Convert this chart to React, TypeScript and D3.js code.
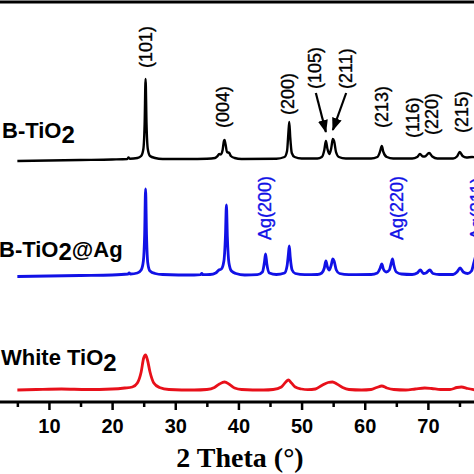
import { useEffect, useRef } from 'react';
import * as d3 from 'd3';

type Pt = [number, number];

// 2θ (deg), intensity (a.u.)
const bTiO2: Pt[] = [
  [5, -2], [10, -1.5], [15, -1], [20, -0.5], [22.4, 0], [22.6, 1.5], [22.8, 0.3], [24, 1],
  [24.6, 3], [24.95, 10], [25.15, 35], [25.3, 80], [25.45, 35], [25.65, 10], [26, 3], [26.8, 1],
  [28, 0], [32, 0], [35, 0.3], [36.3, 1], [36.7, 3], [36.95, 5], [37.2, 4.5], [37.5, 9],
  [37.7, 18], [37.8, 19], [37.95, 15], [38.2, 7], [38.55, 6], [38.8, 3], [39.4, 1], [40.5, 0],
  [46, 0.3], [47.3, 2], [47.7, 8], [47.9, 25], [48.05, 37], [48.2, 22], [48.45, 6], [48.9, 2],
  [50, 0.5], [52.5, 0.5], [53.2, 2], [53.6, 9], [53.85, 18], [54.1, 10], [54.4, 5], [54.7, 11],
  [54.95, 20], [55.15, 18], [55.45, 7], [55.9, 2], [57, 0.5], [61, 0.5], [62, 2], [62.45, 8],
  [62.7, 13], [62.95, 7], [63.5, 2], [64.5, 0.5], [67.5, 0.5], [68.3, 2], [68.75, 5], [69.2, 2.5],
  [69.5, 2.5], [70.2, 6], [70.7, 2.5], [71.5, 0.5], [74, 0.5], [74.6, 2.5], [75.05, 7], [75.5, 3],
  [76.1, 1.5], [77, 2], [78, 1],
];

const bTiO2Ag: Pt[] = [
  [5, -1.5], [10, -1], [15, -0.5], [20, 0], [22.5, 1], [22.7, 2], [22.9, 1], [24, 2],
  [24.6, 5], [24.95, 14], [25.15, 40], [25.3, 86], [25.45, 40], [25.65, 12], [26, 4], [26.8, 1.5],
  [28, 0.5], [33, 0], [34, 0.3], [34.2, 1.5], [34.4, 0.3], [35.5, 0.5], [36.4, 2], [36.9, 5],
  [37.3, 6], [37.7, 14], [37.95, 40], [38.1, 70], [38.25, 38], [38.5, 12], [38.9, 4], [39.6, 1.5],
  [41, 0], [43, 0.3], [43.8, 3], [44.1, 12], [44.3, 21], [44.5, 11], [44.9, 2], [46, 0.5],
  [47.3, 2], [47.7, 9], [47.9, 20], [48.05, 29], [48.2, 18], [48.5, 5], [49, 1.5], [50.5, 0.3],
  [52.5, 0.5], [53.2, 2], [53.6, 7], [53.85, 14], [54.1, 8], [54.4, 5], [54.7, 10], [54.95, 16],
  [55.15, 14], [55.5, 5], [56, 1.5], [57.5, 0.3], [61, 0.5], [62, 2], [62.45, 7], [62.7, 11],
  [62.95, 6], [63.4, 3], [63.9, 5], [64.2, 12], [64.4, 16], [64.6, 10], [65, 3], [65.8, 1],
  [67.5, 0.5], [68.3, 2], [68.8, 5], [69.3, 1.5], [69.7, 2], [70.3, 5], [70.8, 1.5], [71.8, 0.5],
  [74, 0.5], [74.6, 3], [75.1, 7], [75.6, 3], [76.3, 1.5], [76.9, 4], [77.3, 13], [77.6, 20],
];

const whiteTiO2: Pt[] = [
  [5, 0], [8, 0.5], [12, 1], [16, 0.5], [20, 1], [22, 2], [23.2, 3], [24, 7],
  [24.6, 18], [25.0, 32], [25.3, 35], [25.6, 30], [26.0, 18], [26.6, 7], [27.5, 2.5], [29, 0.5],
  [33, 0], [35, 0.5], [36.2, 2.5], [37, 6], [37.8, 8], [38.6, 5.5], [39.4, 2], [40.5, 0.5],
  [44, 0], [45.5, 0.5], [46.8, 3], [47.5, 8], [47.9, 10], [48.4, 7], [49, 3], [50, 1],
  [51, 0.3], [52.2, 1], [53.2, 4.5], [54.2, 7.5], [54.9, 8], [55.6, 6], [56.5, 2.5], [57.5, 0.5],
  [59.5, 0], [61, 0.5], [61.9, 2.5], [62.7, 4], [63.5, 2], [64.6, 0.5], [66.5, 0], [68, 1],
  [69.5, 2], [70.6, 1.5], [72, 0.5], [73.5, 0.5], [74.6, 2.5], [75.3, 3], [76.3, 1.5], [77.5, 0],
];

// anatase reflections marked on the B-TiO2 scan
const anataseHkl = ['(101)', '(004)', '(200)', '(105)', '(211)', '(213)', '(116)', '(220)', '(215)'];
const anataseTheta = [25.25, 37.55, 47.7, 52.1, 56.9, 62.7, 67.6, 70.6, 75.4];
const arrowTargets: Record<string, Pt> = { '(105)': [53.85, 18], '(211)': [54.95, 20] };

// silver reflections marked on the B-TiO2@Ag scan
const silverHkl = ['Ag(200)', 'Ag(220)', 'Ag(311)'];
const silverTheta = [44.2, 65.1, 77.75];

const majorTicks = [10, 20, 30, 40, 50, 60, 70];
const minorTicks = [5, 15, 25, 35, 45, 55, 65, 75];

const W = 474;
const H = 474;
const SANS = '"Liberation Sans", Arial, sans-serif';

export default function App() {
  const svgRef = useRef<SVGSVGElement | null>(null);

  useEffect(() => {
    const svg = d3.select(svgRef.current);
    svg.selectAll('*').remove();

    const x = d3.scaleLinear().domain([2.25, 77.3]).range([0, W]);
    const y = d3.scaleLinear().domain([0, 400]).range([402, 2]);

    // vertical stacking of the three scans
    const traces = [
      { data: bTiO2, offset: 243, color: '#000000', width: 2.4 },
      { data: bTiO2Ag, offset: 127, color: '#1111e6', width: 2.8 },
      { data: whiteTiO2, offset: 12, color: '#e8101a', width: 2.8 },
    ];

    svg
      .append('defs')
      .append('marker')
      .attr('id', 'arrow')
      .attr('markerUnits', 'userSpaceOnUse')
      .attr('markerWidth', 13)
      .attr('markerHeight', 10)
      .attr('refX', 12)
      .attr('refY', 5)
      .attr('orient', 'auto')
      .append('path')
      .attr('d', 'M0,0 L13,5 L0,10 Z')
      .attr('fill', '#000');

    // top frame
    svg
      .append('line')
      .attr('x1', 0)
      .attr('x2', W)
      .attr('y1', y(400))
      .attr('y2', y(400))
      .attr('stroke', '#000')
      .attr('stroke-width', 3);

    traces.forEach((t) => {
      const line = d3
        .line<Pt>()
        .x((d) => x(d[0]))
        .y((d) => y(d[1] + t.offset))
        .curve(d3.curveMonotoneX);
      svg
        .append('path')
        .attr('d', line(t.data))
        .attr('fill', 'none')
        .attr('stroke', t.color)
        .attr('stroke-width', t.width)
        .attr('stroke-linejoin', 'round');
    });

    // sample names
    const names = [
      { main: 'B-TiO', tail: '', offset: 243, lift: 21, drop: 5, x: 2 },
      { main: 'B-TiO', tail: '@Ag', offset: 127, lift: 18, drop: 3, x: -1 },
      { main: 'White TiO', tail: '', offset: 12, lift: 25, drop: 6, x: 1 },
    ];
    names.forEach((n) => {
      const txt = svg
        .append('text')
        .attr('x', n.x)
        .attr('y', y(n.offset + n.lift))
        .style('font-family', SANS)
        .style('font-weight', 'bold')
        .style('font-size', '22px')
        .attr('fill', '#000')
        .text(n.main);
      txt.append('tspan').attr('dy', n.drop).style('font-size', '24px').text('2');
      if (n.tail) txt.append('tspan').attr('dy', -n.drop).text(n.tail);
    });

    // anatase peak labels, rotated
    const anataseLift = [91, 31, 44, 70, 70, 31, 21, 24, 26];
    anataseHkl.forEach((hkl, i) => {
      const px = x(anataseTheta[i]);
      const py = y(243 + anataseLift[i]);
      svg
        .append('text')
        .attr('transform', `translate(${px},${py}) rotate(-90)`)
        .attr('dy', '0.36em')
        .style('font-family', SANS)
        .style('font-size', '18px')
        .attr('fill', '#000')
        .attr('stroke', '#000')
        .attr('stroke-width', 0.35)
        .text(hkl);
      const target = arrowTargets[hkl];
      if (target) {
        svg
          .append('line')
          .attr('x1', px + 1)
          .attr('y1', py + 4)
          .attr('x2', x(target[0]))
          .attr('y2', y(243 + target[1]) - 9)
          .attr('stroke', '#000')
          .attr('stroke-width', 2.2)
          .attr('marker-end', 'url(#arrow)');
      }
    });

    silverHkl.forEach((hkl, i) => {
      svg
        .append('text')
        .attr('transform', `translate(${x(silverTheta[i])},${y(127 + 35)}) rotate(-90)`)
        .attr('dy', '0.36em')
        .style('font-family', SANS)
        .style('font-size', '18px')
        .attr('fill', '#1111e6')
        .attr('stroke', '#1111e6')
        .attr('stroke-width', 0.35)
        .text(hkl);
    });

    // bottom axis
    const axisG = svg.append('g').attr('transform', `translate(0,${y(0)})`);
    axisG
      .append('line')
      .attr('x1', 0)
      .attr('x2', W)
      .attr('stroke', '#000')
      .attr('stroke-width', 3);

    axisG
      .append('g')
      .call(d3.axisBottom(x).tickValues(minorTicks).tickSize(5).tickFormat(() => ''))
      .call((g) => g.select('.domain').remove())
      .call((g) => g.selectAll('line').attr('stroke-width', 2.5));

    axisG
      .append('g')
      .call(d3.axisBottom(x).tickValues(majorTicks).tickSize(8).tickFormat(d3.format('d')))
      .call((g) => g.select('.domain').remove())
      .call((g) => g.selectAll('line').attr('stroke-width', 2.5))
      .call((g) =>
        g
          .selectAll('text')
          .attr('y', 31)
          .attr('dy', 0)
          .style('font-family', SANS)
          .style('font-weight', 'bold')
          .style('font-size', '20px')
          .attr('fill', '#000')
      );

    svg
      .append('text')
      .attr('x', 240)
      .attr('y', 467)
      .attr('text-anchor', 'middle')
      .style('font-family', '"Liberation Serif", "Times New Roman", serif')
      .style('font-weight', 'bold')
      .style('font-size', '28px')
      .attr('fill', '#000')
      .text('2 Theta (°)');
  }, []);

  return (
    <>
      <style>{'body{margin:0;background:#fff}'}</style>
      <svg ref={svgRef} width={W} height={H} style={{ display: 'block', background: '#fff' }} />
    </>
  );
}
